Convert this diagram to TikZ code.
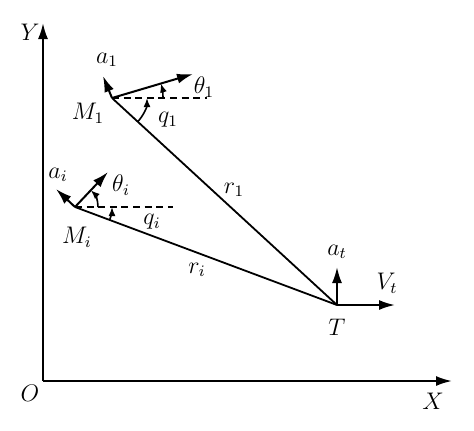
\documentclass[tikz,border=0pt]{standalone}
\usetikzlibrary{arrows.meta}
\begin{document}
\begin{tikzpicture}[x=0.5pt, y=0.5pt, font=\fontsize{12}{14}\selectfont]
	\tikzset{fleche/.style={line width=1pt, -{Latex[length=8pt, width=5pt]}}, trait/.style={line width=0.9pt}, pointille/.style={line width=0.9pt, dash pattern=on 3.5pt off 2.3pt}, petitefleche/.style={line width=0.8pt, -{Latex[length=4.5pt, width=3.5pt]}}};
	\useasboundingbox (0,0) rectangle (474,430);

	% points
	\coordinate (O)  at ( 43,  49);
	\coordinate (Xb) at (452,  49);
	\coordinate (Yb) at ( 43, 407);
	\coordinate (M1) at (112, 332);
	\coordinate (Mi) at ( 75, 223);
	\coordinate (T)  at (337, 125);

	% bouts des fleches
	\coordinate (th1) at (193, 356);
	\coordinate (a1)  at (103, 354);
	\coordinate (h1)  at (207, 332);
	\coordinate (thi) at (108, 258);
	\coordinate (ai)  at ( 56, 241);
	\coordinate (hi)  at (173, 223);
	\coordinate (at)  at (337, 163);
	\coordinate (vt)  at (395, 125);

	% axes
	\draw[fleche] (O) -- (Xb);
	\draw[fleche] (O) -- (Yb);

	% lignes de visee
	\draw[trait] (M1) -- (T);
	\draw[trait] (Mi) -- (T);
	\draw[pointille] (M1) -- (h1);
	\draw[pointille] (Mi) -- (hi);

	% vecteurs
	\draw[fleche] (M1) -- (th1);
	\draw[fleche] (M1) -- (a1);
	\draw[fleche] (Mi) -- (thi);
	\draw[fleche] (Mi) -- (ai);
	\draw[fleche] (T) -- (at);
	\draw[fleche] (T) -- (vt);

	% angles
	\draw[petitefleche] ([shift={(0:51)}]M1) arc[start angle=0, end angle=16.5, radius=51];
	\draw[petitefleche] ([shift={(-42.6:35)}]M1) arc[start angle=-42.6, end angle=0, radius=35];
	\draw[petitefleche] ([shift={(0:23)}]Mi) arc[start angle=0, end angle=46.7, radius=23];
	\draw[petitefleche] ([shift={(-20.5:37)}]Mi) arc[start angle=-20.5, end angle=0, radius=37];

	% etiquettes
	\node (lY)  at ( 30, 398) {$Y$};
	\node (lO)  at ( 30,  37) {$O$};
	\node (lX)  at (433,  29) {$X$};
	\node (la1) at (107, 370) {$a_1$};
	\node (lth1) at (204, 343) {$\theta_1$};
	\node (lM1) at ( 88, 317) {$M_1$};
	\node (lq1) at (168, 310) {$q_1$};
	\node (lr1) at (234, 240) {$r_1$};
	\node (lai) at ( 58, 255) {$a_i$};
	\node (lthi) at (121, 245) {$\theta_i$};
	\node (lqi) at (152, 208) {$q_i$};
	\node (lMi) at ( 77, 193) {$M_i$};
	\node (lri) at (197, 160) {$r_i$};
	\node (lat) at (337, 178) {$a_t$};
	\node (lvt) at (387, 147) {$V_t$};
	\node (lT)  at (337, 103) {$T$};
\end{tikzpicture}
\end{document}
